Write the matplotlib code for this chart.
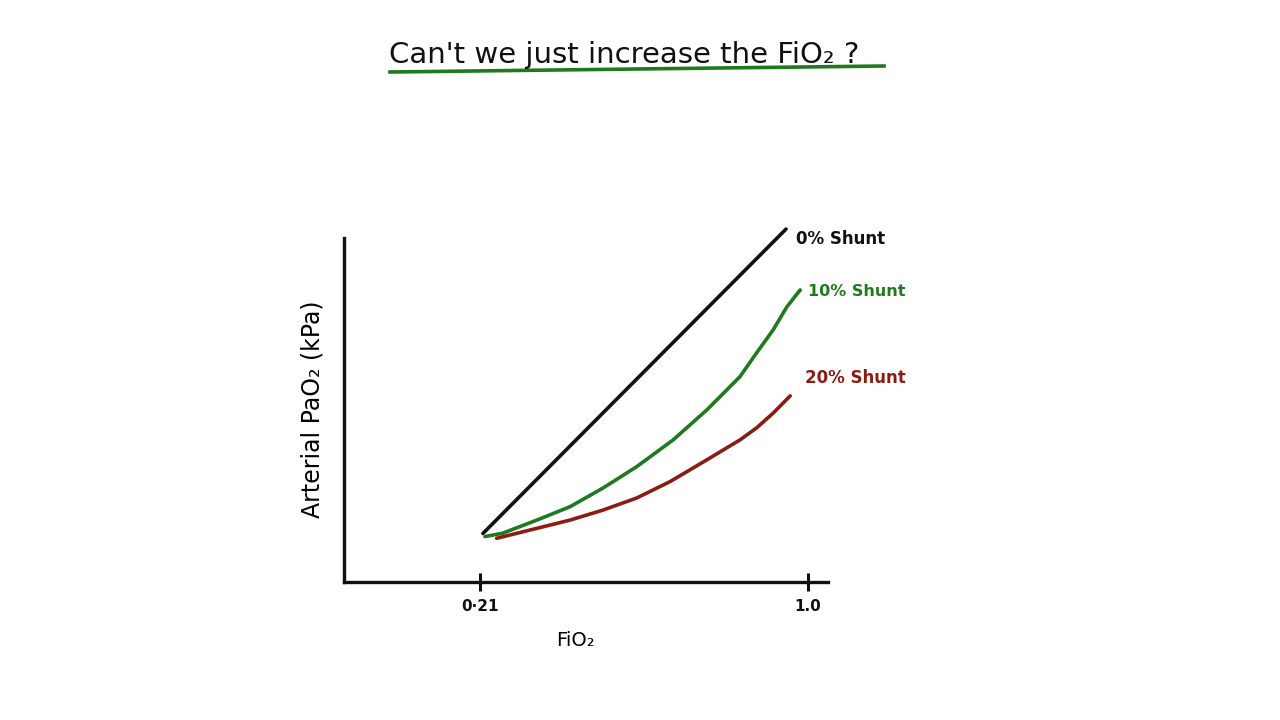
import matplotlib
matplotlib.use("Agg")
import matplotlib.pyplot as plt
from matplotlib.lines import Line2D

# ---- data (y in arbitrary PaO2 units) ----
fio2_0 = [0.217, 0.947]
pao2_0 = [14.1, 102.6]

fio2_10 = [0.222, 0.265, 0.347, 0.427, 0.506, 0.587, 0.675, 0.756, 0.836, 0.876, 0.916, 0.949, 0.981]
pao2_10 = [13.2, 14.2, 18.0, 21.9, 27.3, 33.5, 41.3, 50.0, 59.7, 66.6, 73.3, 80.0, 84.9]

fio2_20 = [0.250, 0.347, 0.427, 0.506, 0.587, 0.668, 0.756, 0.836, 0.876, 0.916, 0.957]
pao2_20 = [12.7, 15.6, 18.0, 20.9, 24.4, 29.2, 35.5, 41.3, 44.8, 49.1, 54.1]

tick_values = [0.21, 1.0]
tick_labels = ["0·21", "1.0"]
series_labels = ["0% Shunt", "10% Shunt", "20% Shunt"]
title = "Can't we just increase the FiO₂ ?"
xlabel = "FiO₂"
ylabel = "Arterial PaO₂ (kPa)"

BLACK = "#111111"
GREEN = "#1f7a1f"
RED = "#8a1c14"

plt.rcParams['font.family'] = ['DejaVu Sans']

fig = plt.figure(figsize=(12.8, 7.2), dpi=100)
fig.patch.set_facecolor("white")

ax = fig.add_axes([344 / 1280, 1 - 582 / 720, 484 / 1280, (110 * 3.44) / 720])
ax.set_xlim(-0.1175, 1.048)
ax.set_ylim(0, 110)

ax.plot(fio2_0, pao2_0, color=BLACK, lw=2.6, solid_capstyle="round")
ax.plot(fio2_10, pao2_10, color=GREEN, lw=2.6, solid_capstyle="round", solid_joinstyle="round")
ax.plot(fio2_20, pao2_20, color=RED, lw=2.6, solid_capstyle="round", solid_joinstyle="round")

# series labels at line ends
ax.text(fio2_0[-1] + 0.024, pao2_0[-1] - 3, series_labels[0], color=BLACK,
        fontsize=12, fontweight="bold", ha="left", va="center")
ax.text(fio2_10[-1] + 0.018, pao2_10[-1] - 0.5, series_labels[1], color=GREEN,
        fontsize=11.5, fontweight="bold", ha="left", va="center")
ax.text(fio2_20[-1] + 0.036, pao2_20[-1] + 5.3, series_labels[2], color=RED,
        fontsize=12, fontweight="bold", ha="left", va="center")

for s in ["top", "right"]:
    ax.spines[s].set_visible(False)
ax.spines["left"].set_bounds(0, 100)
ax.spines["left"].set_linewidth(2.4)
ax.spines["bottom"].set_linewidth(2.4)
ax.spines["left"].set_color(BLACK)
ax.spines["bottom"].set_color(BLACK)

ax.set_yticks([])
ax.set_xticks(tick_values)
ax.set_xticklabels(tick_labels, fontsize=11, fontweight="bold")
ax.tick_params(axis="x", direction="inout", length=13, width=2.2, pad=6, colors=BLACK)

ax.set_xlabel(xlabel, fontsize=14, labelpad=12, x=0.479)
ax.set_ylabel(ylabel, fontsize=17, labelpad=14, y=0.457)

# title with green underline
fig.text(624 / 1280, 1 - 55 / 720, title, fontsize=21, ha="center", va="center", color=BLACK)
fig.add_artist(Line2D([390 / 1280, 884 / 1280], [1 - 72 / 720, 1 - 66 / 720],
                      transform=fig.transFigure, color=GREEN, lw=2.6))

fig.savefig("out.png", dpi=100, facecolor="white")
